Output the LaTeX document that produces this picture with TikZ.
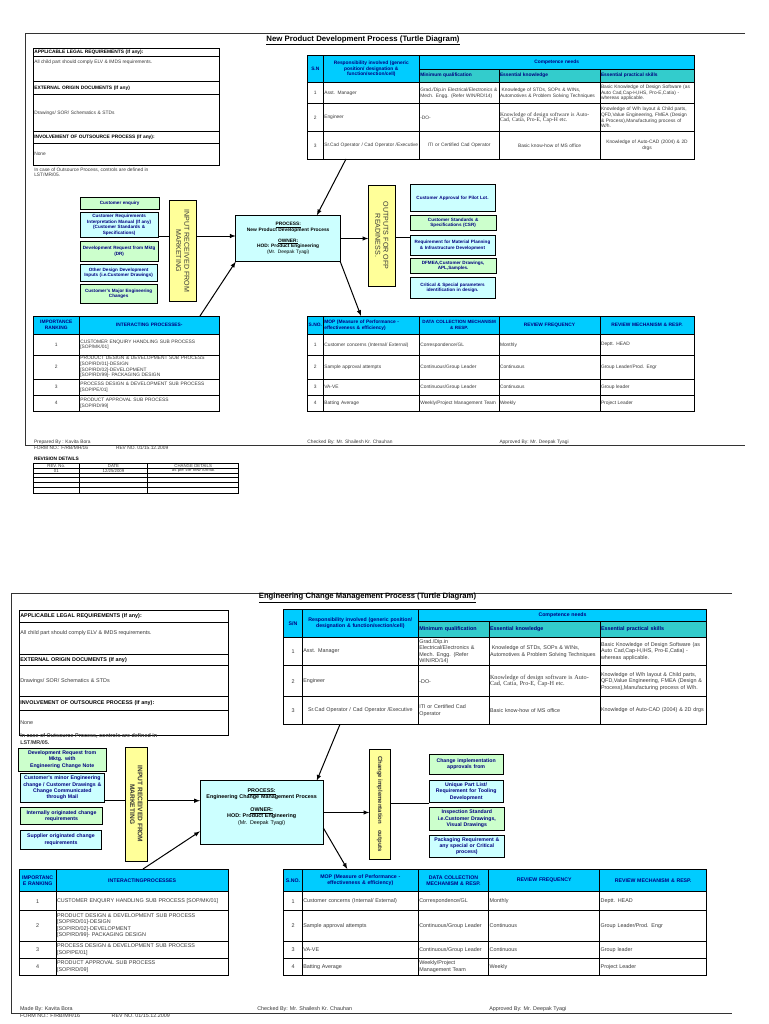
\documentclass[tikz,border=0pt]{standalone}
\usepackage{fontspec}
\setmainfont{Liberation Sans}
\newfontfamily\cellserif{Liberation Serif}
\definecolor{headcyan}{RGB}{0,204,255}
\definecolor{headteal}{RGB}{51,204,204}
\definecolor{boxgreen}{RGB}{204,255,204}
\definecolor{boxblue}{RGB}{204,255,255}
\definecolor{boxyellow}{RGB}{255,255,153}
\definecolor{inknavy}{RGB}{0,0,128}
\definecolor{inkgray}{RGB}{55,55,55}
\newcommand{\fsmall}{\fontsize{4.85}{5.7}\selectfont}
\newcommand{\fbold}{\fontsize{4.6}{5.5}\selectfont}
\newcommand{\flarge}{\fontsize{5.4}{6.5}\selectfont}
\newcommand{\fboldb}{\fontsize{5.2}{6.3}\selectfont}
\newcommand{\frev}{\fontsize{4.3}{5}\selectfont}
\def\cellbox[#1](#2)(#3,#4)(#5,#6)#7{%
  \pgfmathsetmacro\cellw{#5-#3}\pgfmathsetmacro\cellh{#6-#4}\pgfmathsetmacro\celltw{#5-#3-2}%
  \node[#1,minimum width=\cellw pt,minimum height=\cellh pt,text width=\celltw pt] (#2) at ({(#3+#5)/2},{(#4+#6)/2}) {#7};}

\begin{document}
\begin{tikzpicture}[x=1pt,y=-1pt]

%
% Styles
%
\tikzstyle{cell} = [rectangle,draw=black,line width=0.7pt,inner xsep=1pt,inner ysep=0pt,outer sep=0pt,text=inkgray]
\tikzstyle{lcell} = [cell,align=left,font=\fsmall]
\tikzstyle{ccell} = [cell,align=center,font=\fsmall]
\tikzstyle{lcellb} = [cell,align=left,font=\flarge]
\tikzstyle{ccellb} = [cell,align=center,font=\flarge]
\tikzstyle{rcell} = [cell,align=center,font=\frev]
\tikzstyle{label} = [lcell,text=black,font=\fsmall\bfseries]
\tikzstyle{labelb} = [lcellb,text=black,font=\flarge\bfseries]
\tikzstyle{head} = [ccell,fill=headcyan,text=inknavy,font=\fsmall\bfseries]
\tikzstyle{headb} = [ccellb,fill=headcyan,text=inknavy,font=\fboldb\bfseries]
\tikzstyle{sub} = [lcell,fill=headteal,text=inknavy,font=\fsmall\bfseries]
\tikzstyle{subb} = [lcellb,fill=headteal,text=inknavy,font=\flarge\bfseries]
\tikzstyle{green} = [ccell,line width=0.9pt,fill=boxgreen,text=inknavy,font=\fbold\bfseries]
\tikzstyle{blue} = [ccell,line width=0.9pt,fill=boxblue,text=inknavy,font=\fbold\bfseries]
\tikzstyle{yellow} = [ccell,line width=0.9pt,fill=boxyellow]
\tikzstyle{yellowtxt} = [rotate=-90,align=center,text=inkgray,inner sep=0pt]
\tikzstyle{proc} = [ccell,line width=0.9pt,fill=boxblue,text=black,font=\fsmall\bfseries]
\tikzstyle{free} = [anchor=west,inner sep=0pt,outer sep=0pt,text=inkgray,font=\fsmall,align=left]
\tikzstyle{line} = [line width=1pt,black]
\tikzstyle{arrow} = [line,-latex]
\tikzstyle{frame} = [line width=0.8pt,black!80]

\useasboundingbox (0,0) rectangle (768,1024);

%
% New product development
%
\draw[frame] (745,33.5) -- (25.7,33.5) -- (25.7,445) -- (745,445);
\node[font=\fontsize{7.8}{9}\selectfont\bfseries,inner sep=0pt] (title) at (363,40.5) {\underline{New Product Development Process (Turtle Diagram)}};

\cellbox[label](a1)(33.3,48.3)(219.3,56){APPLICABLE LEGAL REQUIREMENTS (If any):}
\cellbox[lcell](a2)(33.3,56)(219.3,81.7){}
\cellbox[label](a3)(33.3,81.7)(219.3,94.3){EXTERNAL ORIGIN DOCUMENTS (If any)}
\cellbox[lcell](a4)(33.3,94.3)(219.3,131.7){Drawings/ SOR/ Schematics \& STDs}
\cellbox[label](a5)(33.3,131.7)(219.3,143.3){INVOLVEMENT OF OUTSOURCE PROCESS (If any):}
\cellbox[lcell](a6)(33.3,143.3)(219.3,165){None}
\node[free] (a7) at (34.3,62) {All child part should comply ELV \& IMDS requirements.};
\node[free,anchor=north west] (a8) at (34.3,167.5) {In case of Outsource Process, controls are defined in\\LST/MR/05.};

\cellbox[head](c1)(307.3,55.7)(323.3,82.3){S.N}
\cellbox[head](c2)(323.3,55.7)(419.3,82.3){Responsibility involved (generic\\position/ designation \&\\function/section/cell)}
\cellbox[head](c3)(419.3,55.7)(694,69){Competence needs}
\cellbox[sub](c4)(419.3,69)(499,82.3){Minimum qualification}
\cellbox[sub](c5)(499,69)(600,82.3){Essential knowledge}
\cellbox[sub](c6)(600,69)(694,82.3){Essential practical skills}
\cellbox[ccell](c11)(307.3,82.3)(323.3,103.7){1}
\cellbox[lcell](c12)(323.3,82.3)(419.3,103.7){Asst. Manager}
\cellbox[lcell](c13)(419.3,82.3)(499,103.7){Grad./Dip.in Electrical/Electronics \&\\Mech. Engg. (Refer WIN/RD/14)}
\cellbox[lcell](c14)(499,82.3)(600,103.7){\ Knowledge of STDs, SOPs \& WINs,\\Automotives \& Problem Solving Techniques}
\cellbox[lcell](c15)(600,82.3)(694,103.7){Basic Knowledge of Design Software (as\\Auto Cad,Cap-H,IHS, Pro-E,Catia) -\\whereas applicable.}
\cellbox[ccell](c21)(307.3,103.7)(323.3,131.7){2}
\cellbox[lcell](c22)(323.3,103.7)(419.3,131.7){Engineer}
\cellbox[lcell](c23)(419.3,103.7)(499,131.7){-DO-}
\cellbox[lcell](c24)(499,103.7)(600,131.7){\cellserif\fontsize{5.6}{7}\selectfont Knowledge of design software is Auto-\\Cad, Catia, Pro-E, Cap-H etc.}
\cellbox[lcell](c25)(600,103.7)(694,131.7){Knowledge of W/h layout \& Child parts,\\QFD,Value Engineering, FMEA (Design\\\& Process),Manufacturing process of\\W/h.}
\cellbox[ccell](c31)(307.3,131.7)(323.3,159){3}
\cellbox[lcell](c32)(323.3,131.7)(419.3,159){Sr.Cad Operator / Cad Operator /Executive}
\cellbox[ccell](c33)(419.3,131.7)(499,159){ITI or Certified Cad Operator}
\cellbox[ccell](c34)(499,131.7)(600,159){Basic know-how of MS office}
\cellbox[ccell](c35)(600,131.7)(694,159){Knowledge of Auto-CAD (2004) \& 2D\\drgs}

\cellbox[green](i1)(80,197.7)(159.3,209.3){Customer enquiry}
\cellbox[blue](i2)(80,212)(158.3,237.7){Customer Requirements\\Interpretation Manual (If any)\\(Customer Standards \&\\Specifications)}
\cellbox[green](i3)(80,241.3)(158.3,261){Development Request from Mktg\\(DR)}
\cellbox[blue](i4)(80,264.3)(157.3,281.3){Other Design Development\\Inputs (i.e.Customer Drawings)}
\cellbox[green](i5)(80,284)(157.3,303.3){Customer's Major Engineering\\Changes}
\cellbox[proc](p)(235.7,215.3)(340.7,261.7){\underline{PROCESS:}\\New Product Development Process\\[5pt]\underline{OWNER:}\\HOD: Product Engineering\\\textmd{(Mr. Deepak Tyagi)}}
\coordinate (ilink) at (158.3,236);
\draw[arrow] (ilink) -- (ilink -| p.west);
\cellbox[yellow](yi)(169,200.3)(196.3,301.3){}
\node[yellowtxt,font=\fontsize{7.1}{8.2}\selectfont] (yit) at (yi.center) {INPUT RECEIVED FROM\\MARKETING};

\cellbox[yellow](yo)(368.3,185)(395.3,286){}
\node[yellowtxt,font=\fontsize{7.1}{8.2}\selectfont] (yot) at (yo.center) {OUTPUTS FOR OFP\\READINESS.};
\coordinate (olink) at (410,237.7);
\draw[line] (olink) -- (olink -| yo.east);
\draw[arrow] (p.east) -- (yo.west |- p.east);
\cellbox[blue](o1)(410,184.7)(495,211.3){Customer Approval for Pilot Lot.}
\cellbox[green](o2)(410,215.3)(496.3,230.7){Customer Standards \&\\Specifications (CSR)}
\cellbox[blue](o3)(410,235.3)(495,255){Requirement for Material Planning\\\& Infrastructure Development}
\cellbox[green](o4)(410,258.3)(496.3,273.3){DFMEA,Customer Drawings,\\APL,Samples.}
\cellbox[blue](o5)(410,277.7)(495,298.3){Critical \& Special parameters\\identification in design.}

\cellbox[head](d1)(33.3,316)(79.3,334.3){IMPORTANCE\\RANKING}
\cellbox[head](d2)(79.3,316)(219.3,334.3){INTERACTING PROCESSES-}
\cellbox[ccell](d11)(33.3,334.3)(79.3,355.3){1}
\cellbox[lcell](d12)(79.3,334.3)(219.3,355.3){CUSTOMER ENQUIRY HANDLING SUB PROCESS\\{}[SOP/MK/01]}
\cellbox[ccell](d21)(33.3,355.3)(79.3,379){2}
\cellbox[lcell](d22)(79.3,355.3)(219.3,379){PRODUCT DESIGN \& DEVELOPMENT SUB PROCESS\\{}[SOP/RD/01]-DESIGN\\{}[SOP/RD/02]-DEVELOPMENT\\{}[SOP/RD/99]- PACKAGING DESIGN}
\cellbox[ccell](d31)(33.3,379)(79.3,395){3}
\cellbox[lcell](d32)(79.3,379)(219.3,395){PROCESS DESIGN \& DEVELOPMENT SUB PROCESS\\{}[SOP/PE/01]}
\cellbox[ccell](d41)(33.3,395)(79.3,411){4}
\cellbox[lcell](d42)(79.3,395)(219.3,411){PRODUCT APPROVAL SUB PROCESS\\{}[SOP/RD/99]}

\cellbox[head](m1)(307.3,316)(323.3,334.3){S.NO.}
\cellbox[head,align=left](m2)(323.3,316)(419.3,334.3){MOP (Measure of Performance -\\effectiveness \& efficiency)}
\cellbox[head,font=\fbold\bfseries](m3)(419.3,316)(499,334.3){DATA COLLECTION MECHANISM\\\& RESP.}
\cellbox[head](m4)(499,316)(600,334.3){REVIEW FREQUENCY}
\cellbox[head](m5)(600,316)(694,334.3){REVIEW MECHANISM \& RESP.}
\cellbox[ccell](m11)(307.3,334.3)(323.3,355.3){1}
\cellbox[lcell](m12)(323.3,334.3)(419.3,355.3){Customer concerns (Internal/ External)}
\cellbox[lcell](m13)(419.3,334.3)(499,355.3){Correspondence/GL}
\cellbox[lcell](m14)(499,334.3)(600,355.3){Monthly}
\cellbox[lcell](m15)(600,334.3)(694,355.3){Deptt. HEAD}
\cellbox[ccell](m21)(307.3,355.3)(323.3,379){2}
\cellbox[lcell](m22)(323.3,355.3)(419.3,379){Sample approval attempts}
\cellbox[lcell](m23)(419.3,355.3)(499,379){Continuous/Group Leader}
\cellbox[lcell](m24)(499,355.3)(600,379){Continuous}
\cellbox[lcell](m25)(600,355.3)(694,379){Group Leader/Prod. Engr}
\cellbox[ccell](m31)(307.3,379)(323.3,395){3}
\cellbox[lcell](m32)(323.3,379)(419.3,395){VA-VE}
\cellbox[lcell](m33)(419.3,379)(499,395){Continuous/Group Leader}
\cellbox[lcell](m34)(499,379)(600,395){Continuous}
\cellbox[lcell](m35)(600,379)(694,395){Group leader}
\cellbox[ccell](m41)(307.3,395)(323.3,411){4}
\cellbox[lcell](m42)(323.3,395)(419.3,411){Batting Average}
\cellbox[lcell](m43)(419.3,395)(499,411){Weekly/Project Management Team}
\cellbox[lcell](m44)(499,395)(600,411){Weekly}
\cellbox[lcell](m45)(600,395)(694,411){Project Leader}

\coordinate (cout) at (346,159);
\coordinate (dout) at (200,316);
\coordinate (min) at (361,316);
\draw[arrow] (cout) -- (p.39);
\draw[arrow] (dout) -- (p.south west);
\draw[arrow] (p.-24.8) -- (min);

\node[free] (f1) at (34,442) {Prepared By : Kavita Bora};
\node[free] (f2) at (34,447.5) {FORM NO.: F/RB/MH/16};
\node[free] (f3) at (116,447.5) {REV NO. 01/15.12.2009};
\node[free] (f4) at (307.3,442) {Checked By: Mr. Shailesh Kr. Chauhan};
\node[free] (f5) at (499.5,442) {Approved By: Mr. Deepak Tyagi};
\node[free,font=\fsmall\bfseries,text=black] (f6) at (34,459) {REVISION DETAILS};

\cellbox[rcell](r1)(33.3,463.3)(79.3,468.3){REV. No.}
\cellbox[rcell](r2)(79.3,463.3)(147.7,468.3){DATE}
\cellbox[rcell](r3)(147.7,463.3)(238.7,468.3){CHANGE DETAILS}
\cellbox[rcell](r4)(33.3,468.3)(79.3,473.3){01}
\cellbox[rcell](r5)(79.3,468.3)(147.7,473.3){12/25/2009}
\cellbox[rcell](r6)(147.7,468.3)(238.7,473.3){as per the new format}
\foreach \ya/\yb/\rn in {473.3/477.7/a,477.7/482.3/b,482.3/487.3/c,487.3/493/d} {
  \cellbox[rcell](s\rn1)(33.3,\ya)(79.3,\yb){}
  \cellbox[rcell](s\rn2)(79.3,\ya)(147.7,\yb){}
  \cellbox[rcell](s\rn3)(147.7,\ya)(238.7,\yb){}
}

%
% Engineering change management
%
\draw[frame] (732,593.3) -- (11,593.3) -- (11,1013.7) -- (732,1013.7);
\node[font=\fontsize{7.7}{9}\selectfont\bfseries,inner sep=0pt] (etitle) at (367.5,597.7) {\underline{Engineering Change Management Process (Turtle Diagram)}};

\cellbox[labelb](ea1)(19.3,610)(228.3,622.3){APPLICABLE LEGAL REQUIREMENTS (If any):}
\cellbox[lcellb](ea2)(19.3,622.3)(228.3,654.3){}
\cellbox[labelb](ea3)(19.3,654.3)(228.3,665.3){EXTERNAL ORIGIN DOCUMENTS (If any)}
\cellbox[lcellb](ea4)(19.3,665.3)(228.3,696.7){Drawings/ SOR/ Schematics \& STDs}
\cellbox[labelb](ea5)(19.3,696.7)(228.3,710){INVOLVEMENT OF OUTSOURCE PROCESS (If any):}
\cellbox[lcellb](ea6)(19.3,710)(228.3,735){None}
\node[free,font=\flarge] (ea7) at (20.3,632.7) {All child part should comply ELV \& IMDS requirements.};
\node[free,anchor=north west,font=\flarge\bfseries] (ea8) at (20.3,734) {In case of Outsource Process, controls are defined in\\LST/MR/05.};

\cellbox[headb](ec1)(283.7,609.3)(302.3,637.3){S/N}
\cellbox[headb](ec2)(302.3,609.3)(418.3,637.3){Responsibility involved (generic position/\\designation \& function/section/cell)}
\cellbox[headb](ec3)(418.3,609.3)(706.7,621.7){Competence needs}
\cellbox[subb](ec4)(418.3,621.7)(489,637.3){Minimum qualification}
\cellbox[subb](ec5)(489,621.7)(600,637.3){Essential knowledge}
\cellbox[subb](ec6)(600,621.7)(706.7,637.3){Essential practical skills}
\cellbox[ccellb](ec11)(283.7,637.3)(302.3,665.7){1}
\cellbox[lcellb](ec12)(302.3,637.3)(418.3,665.7){Asst. Manager}
\cellbox[lcellb](ec13)(418.3,637.3)(489,665.7){Grad./Dip.in\\Electrical/Electronics \&\\Mech. Engg. (Refer\\WIN/RD/14)}
\cellbox[lcellb](ec14)(489,637.3)(600,665.7){\ Knowledge of STDs, SOPs \& WINs,\\Automotives \& Problem Solving Techniques}
\cellbox[lcellb](ec15)(600,637.3)(706.7,665.7){Basic Knowledge of Design Software (as\\Auto Cad,Cap-H,IHS, Pro-E,Catia) -\\whereas applicable.}
\cellbox[ccellb](ec21)(283.7,665.7)(302.3,696.7){2}
\cellbox[lcellb](ec22)(302.3,665.7)(418.3,696.7){Engineer}
\cellbox[lcellb](ec23)(418.3,665.7)(489,696.7){-DO-}
\cellbox[lcellb](ec24)(489,665.7)(600,696.7){\cellserif\fontsize{6.2}{8}\selectfont Knowledge of design software is Auto-\\Cad, Catia, Pro-E, Cap-H etc.}
\cellbox[lcellb](ec25)(600,665.7)(706.7,696.7){Knowledge of W/h layout \& Child parts,\\QFD,Value Engineering, FMEA (Design \&\\Process),Manufacturing process of W/h.}
\cellbox[ccellb](ec31)(283.7,696.7)(302.3,724.3){3}
\cellbox[ccellb](ec32)(302.3,696.7)(418.3,724.3){Sr.Cad Operator / Cad Operator /Executive}
\cellbox[lcellb](ec33)(418.3,696.7)(489,724.3){ITI or Certified Cad\\Operator}
\cellbox[lcellb](ec34)(489,696.7)(600,724.3){Basic know-how of MS office}
\cellbox[lcellb](ec35)(600,696.7)(706.7,724.3){Knowledge of Auto-CAD (2004) \& 2D drgs}

\cellbox[green,font=\fboldb\bfseries](ei1)(18.3,748)(106,771){Development Request from\\Mktg. with\\Engineering Change Note}
\cellbox[blue,font=\fboldb\bfseries](ei2)(20.3,773.3)(104.3,802.7){Customer's minor Engineering\\change / Customer Drawings \&\\Change Communicated\\through Mail}
\cellbox[green,font=\fboldb\bfseries](ei3)(20.3,807.7)(102.7,824.3){Internally originated change\\requirements}
\cellbox[blue,font=\fboldb\bfseries](ei4)(20.3,830)(101.7,849.3){Supplier originated change\\requirements}
\cellbox[proc,font=\flarge\bfseries](ep)(200,780.7)(323.3,844.3){\underline{PROCESS:}\\Engineering Change Management Process\\[6pt]\underline{OWNER:}\\HOD: Product Engineering\\\textmd{(Mr. Deepak Tyagi)}\\[5.5pt]~}
\coordinate (eilink) at (104.3,800.7);
\draw[arrow] (eilink) -- (eilink -| ep.west);
\cellbox[yellow](eyi)(125.7,747.3)(147,861){}
\node[yellowtxt,font=\fontsize{6.6}{7.8}\selectfont\bfseries] (eyit) at (eyi.center) {INPUT RECEIVED FROM\\MARKETING};

\cellbox[yellow](eyo)(369.3,749.3)(390,859.3){}
\node[yellowtxt,font=\fontsize{6}{7}\selectfont\bfseries] (eyot) at (eyo.center) {Change implementation\quad outputs};
\coordinate (eolink) at (429,803.3);
\draw[line] (eolink) -- (eolink -| eyo.east);
\draw[arrow] (ep.east) -- (eyo.west |- ep.east);
\cellbox[green,font=\fboldb\bfseries](eo1)(429,754)(503.3,774.3){Change implementation\\approvals from}
\cellbox[blue,font=\fboldb\bfseries](eo2)(429,780.3)(503.3,802.7){Unique Part List/\\Requirement for Tooling\\Development}
\cellbox[green,font=\fboldb\bfseries](eo3)(429,807.7)(504.7,830){Inspection Standard\\i.e.Customer Drawings,\\Visual Drawings}
\cellbox[blue,font=\fboldb\bfseries](eo4)(429,835)(504.7,857.3){Packaging Requirement \&\\any special or Critical\\process)}

\cellbox[headb](ed1)(19.3,869)(56,891.7){IMPORTANC\\E RANKING}
\cellbox[headb](ed2)(56,869)(228.3,891.7){INTERACTINGPROCESSES}
\cellbox[ccellb](ed11)(19.3,891.7)(56,910.7){1}
\cellbox[lcellb](ed12)(56,891.7)(228.3,910.7){CUSTOMER ENQUIRY HANDLING SUB PROCESS [SOP/MK/01]}
\cellbox[ccellb](ed21)(19.3,910.7)(56,941){2}
\cellbox[lcellb](ed22)(56,910.7)(228.3,941){PRODUCT DESIGN \& DEVELOPMENT SUB PROCESS\\{}[SOP/RD/01]-DESIGN\\{}[SOP/RD/02]-DEVELOPMENT\\{}[SOP/RD/99]- PACKAGING DESIGN}
\cellbox[ccellb](ed31)(19.3,941)(56,958.3){3}
\cellbox[lcellb](ed32)(56,941)(228.3,958.3){PROCESS DESIGN \& DEVELOPMENT SUB PROCESS\\{}[SOP/PE/01]}
\cellbox[ccellb](ed41)(19.3,958.3)(56,975.3){4}
\cellbox[lcellb](ed42)(56,958.3)(228.3,975.3){PRODUCT APPROVAL SUB PROCESS\\{}[SOP/RD/09]}

\cellbox[headb](em1)(283.7,869)(302.3,891.7){S.NO.}
\cellbox[headb](em2)(302.3,869)(418.3,891.7){MOP (Measure of Performance -\\effectiveness \& efficiency)}
\cellbox[headb](em3)(418.3,869)(488.7,891.7){DATA COLLECTION\\MECHANISM \& RESP.}
\cellbox[headb](em4)(488.7,869)(599.7,891.7){REVIEW FREQUENCY}
\cellbox[headb](em5)(599.7,869)(706.7,891.7){REVIEW MECHANISM \& RESP.}
\cellbox[ccellb](em11)(283.7,891.7)(302.3,910.7){1}
\cellbox[lcellb](em12)(302.3,891.7)(418.3,910.7){Customer concerns (Internal/ External)}
\cellbox[lcellb](em13)(418.3,891.7)(488.7,910.7){Correspondence/GL}
\cellbox[lcellb](em14)(488.7,891.7)(599.7,910.7){Monthly}
\cellbox[lcellb](em15)(599.7,891.7)(706.7,910.7){Deptt. HEAD}
\cellbox[ccellb](em21)(283.7,910.7)(302.3,941){2}
\cellbox[lcellb](em22)(302.3,910.7)(418.3,941){Sample approval attempts}
\cellbox[lcellb](em23)(418.3,910.7)(488.7,941){Continuous/Group Leader}
\cellbox[lcellb](em24)(488.7,910.7)(599.7,941){Continuous}
\cellbox[lcellb](em25)(599.7,910.7)(706.7,941){Group Leader/Prod. Engr}
\cellbox[ccellb](em31)(283.7,941)(302.3,958.3){3}
\cellbox[lcellb](em32)(302.3,941)(418.3,958.3){VA-VE}
\cellbox[lcellb](em33)(418.3,941)(488.7,958.3){Continuous/Group Leader}
\cellbox[lcellb](em34)(488.7,941)(599.7,958.3){Continuous}
\cellbox[lcellb](em35)(599.7,941)(706.7,958.3){Group leader}
\cellbox[ccellb](em41)(283.7,958.3)(302.3,975.3){4}
\cellbox[lcellb](em42)(302.3,958.3)(418.3,975.3){Batting Average}
\cellbox[lcellb](em43)(418.3,958.3)(488.7,975.3){Weekly/Project\\Management Team}
\cellbox[lcellb](em44)(488.7,958.3)(599.7,975.3){Weekly}
\cellbox[lcellb](em45)(599.7,958.3)(706.7,975.3){Project Leader}

\coordinate (ecout) at (340,724.3);
\coordinate (edout) at (143,869);
\coordinate (emin) at (347.3,869);
\draw[arrow] (ecout) -- (ep.30.8);
\draw[arrow] (edout) -- (ep.-163.3);
\draw[arrow] (ep.-14.4) -- (emin);

\node[free,font=\flarge] (ef1) at (20,1009) {Made By: Kavita Bora};
\node[free,font=\flarge] (ef2) at (20,1016) {FORM NO.: F/RB/MH/16};
\node[free,font=\flarge] (ef3) at (111.7,1016) {REV NO. 01/15.12.2009};
\node[free,font=\flarge] (ef4) at (257.3,1009) {Checked By: Mr. Shailesh Kr. Chauhan};
\node[free,font=\flarge] (ef5) at (489.3,1009) {Approved By: Mr. Deepak Tyagi};

\end{tikzpicture}
\end{document}
